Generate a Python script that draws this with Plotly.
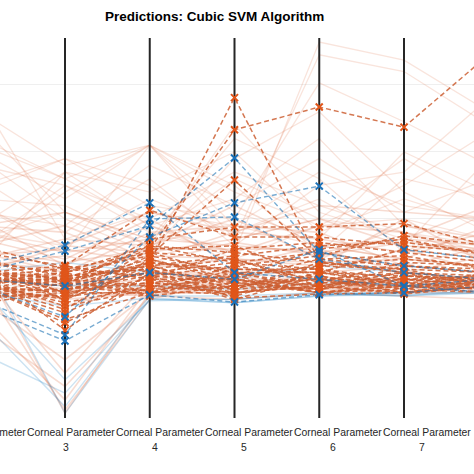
import plotly.graph_objects as go

# ---------------- data ----------------
params = [2, 3, 4, 5, 6, 7, 8]
label_params = [2, 3, 4, 5, 6, 7]   # labels visible inside the picture
title_text = "Predictions: Cubic SVM Algorithm"
axis_label = "Corneal Parameter"

# light background observations (solid, pale orange) - upper region
pale_upper = [
    [2.6, 1.8, 2.1, 0.9, 0.6, 0.4, 0.3],
    [1.8, 1.5, 0.8, 0.5, 3.64, 3.37, 2.6],
    [2.2, 1.6, 2.1, 0.7, 3.45, 3.2, 2.4],
    [1.4, 1.9, 1.2, 1.0, 3.03, 2.45, 1.8],
    [2.0, 1.3, 2.1, 1.4, 0.9, 1.5, 2.3],
    [0.6, 1.5, 1.0, 1.7, 1.2, 0.8, 0.5],
    [1.1, 0.9, 1.8, 1.2, 1.9, 1.1, 1.6],
    [2.4, 1.1, 0.7, 1.6, 1.0, 1.9, 1.2],
    [0.3, 1.7, 1.4, 2.0, 0.8, 1.3, 0.9],
    [1.6, 0.8, 1.6, 0.6, 1.5, 1.7, 2.8],
    [0.9, 1.7, 0.9, 1.3, 2.2, 0.9, 0.6],
    [1.3, 1.2, 0.6, 2.4, 1.1, 0.7, 0.4],
    [2.8, 0.7, 1.1, 0.9, 1.7, 1.2, 1.0],
    [0.5, 1.4, 2.1, 1.1, 0.7, 2.0, 1.4],
    [1.9, 1.0, 0.5, 1.9, 2.6, 1.4, 0.8],
    [0.8, 0.6, 1.3, 0.8, 1.3, 0.6, 1.9],
    [2.1, 1.6, 0.9, 0.4, 0.9, 1.0, 0.7],
    [1.2, 0.5, 2.1, 1.5, 0.5, 1.6, 1.3],
    [0.7, 1.1, 0.7, 2.2, 1.6, 0.5, 1.1],
    [1.5, 1.9, 1.5, 0.7, 1.0, 0.8, 0.6],
]

# pale orange observations inside the dense band
pale_band = [
    [0.8, 0.5, 0.7, 0.6, 0.5, 0.7, 0.6],
    [0.6, 0.9, 0.4, 0.8, 0.7, 0.5, 0.8],
    [1.0, 0.3, 0.9, 0.5, 0.9, 0.8, 0.4],
    [0.4, 0.7, 0.6, 1.0, 0.4, 0.9, 0.7],
    [0.7, 0.4, 1.0, 0.3, 0.6, 0.4, 0.9],
    [0.2, 0.6, 0.5, 0.7, 1.0, 0.6, 0.5],
    [0.9, 0.8, 0.3, 0.4, 0.3, 1.0, 0.3],
    [0.5, 0.2, 0.8, 0.9, 0.8, 0.3, 0.6],
    [0.3, 0.45, 0.2, 0.2, 0.2, 0.55, 0.2],
    [0.1, 0.0, 0.1, 0.0, 0.1, 0.0, 0.1],
    [-0.1, 0.1, 0.0, 0.1, -0.1, 0.1, 0.0],
    [0.0, -0.2, -0.1, -0.1, 0.0, -0.1, -0.1],
    [0.2, 0.15, 0.3, 0.25, 0.2, 0.3, 0.2],
    [-0.2, -0.1, -0.15, -0.2, -0.1, -0.15, -0.2],
    [0.35, 0.25, 0.45, 0.4, 0.35, 0.4, 0.3],
    [0.05, -0.3, 0.05, -0.05, -0.05, 0.05, 0.0],
    [1.2, 0.6, 1.1, 0.8, 1.2, 1.1, 1.0],
    [0.9, 1.1, 0.6, 1.2, 0.6, 0.7, 1.2],
    [0.55, 0.35, 0.55, 0.55, 0.55, 0.2, 0.45],
    [-0.15, 0.05, 0.2, 0.15, 0.0, 0.2, 0.1],
    [0.15, -0.05, -0.05, 0.05, 0.15, -0.05, 0.05],
    [0.45, 0.55, 0.35, 0.65, 0.45, 0.65, 0.55],
    [0.4, -1.9, -0.1, 0.0, 0.1, -0.1, 0.0],
    [0.1, -1.85, -0.2, 0.1, -0.1, 0.0, 0.1],
    [-0.4, -1.7, 0.0, -0.1, 0.0, 0.1, -0.1],
    [-0.6, -1.5, -0.15, 0.0, -0.05, -0.1, 0.0],
    [0.2, -1.3, 0.1, 0.2, 0.1, 0.0, 0.1],
    [-0.2, -1.1, -0.1, -0.1, 0.0, 0.0, -0.1],
]

# pale blue observations (solid)
pale_blue = [
    [0.5, -1.9, -0.2, -0.2, -0.1, -0.15, -0.1],
    [-0.5, -1.8, -0.15, -0.15, -0.1, -0.1, 0.0],
    [-1.0, -1.6, -0.2, -0.25, -0.15, -0.1, -0.1],
    [0.0, -1.4, -0.22, -0.2, -0.12, -0.15, -0.05],
    [-0.1, -0.3, -0.18, -0.25, -0.15, -0.12, -0.1],
    [0.1, 0.0, 0.0, -0.05, 0.05, 0.0, 0.05],
    [0.2, 0.35, 0.2, 0.1, 0.3, 0.2, 0.1],
]

# predicted class B (dashed orange with markers)
pred_orange = [
    [0.1, 0.0, 0.2, -0.1, 0.0, 0.1, 0.0],
    [-0.1, 0.1, 0.0, 0.1, -0.1, 0.0, 0.2],
    [0.2, -0.2, 0.3, 0.0, 0.1, -0.1, 0.1],
    [0.0, 0.2, -0.1, 0.2, 0.0, 0.2, -0.1],
    [0.3, -0.1, 0.1, -0.15, 0.2, 0.0, 0.0],
    [-0.2, 0.05, 0.4, 0.05, -0.05, 0.1, 0.1],
    [0.1, -0.3, -0.05, 0.3, 0.1, -0.05, 0.2],
    [0.4, 0.15, 0.25, -0.05, 0.3, 0.25, 0.0],
    [-0.05, -0.05, 0.05, 0.15, -0.1, 0.05, -0.05],
    [0.15, 0.25, 0.5, 0.4, 0.05, 0.35, 0.3],
    [0.0, -0.4, 0.15, -0.2, 0.15, -0.1, 0.05],
    [0.25, 0.1, -0.15, 0.0, -0.05, 0.15, 0.1],
    [-0.15, -0.15, 0.35, 0.25, 0.25, 0.0, -0.1],
    [0.5, 0.3, 0.1, 0.1, 0.4, 0.45, 0.25],
    [0.05, -0.25, 0.0, -0.1, 0.0, -0.12, 0.0],
    [0.2, 0.05, 0.6, 0.5, 0.35, 0.2, 0.15],
    [-0.1, -0.05, 0.2, 0.35, 0.5, 0.3, 0.2],
    [0.35, 0.2, 0.45, 0.2, 0.2, 0.55, 0.4],
    [0.0, -0.5, -0.1, 0.05, -0.1, -0.05, 0.1],
    [0.1, 0.1, 0.3, 0.45, 0.6, 0.65, 0.5],
    [-0.25, -0.1, 0.05, -0.05, 0.05, 0.05, -0.05],
    [0.3, -0.2, 0.55, 0.6, 0.1, 0.1, 0.0],
    [0.15, 0.0, -0.12, 0.15, 0.3, 0.4, 0.3],
    [-0.05, 0.15, 0.25, -0.18, -0.12, -0.1, 0.0],
    [0.6, 0.25, 0.15, 0.3, 0.45, 0.75, 0.6],
    [0.05, -0.35, 0.4, 0.1, 0.0, 0.15, 0.05],
    [0.2, 0.3, 0.1, 0.55, 0.65, 0.5, 0.35],
    [-0.1, -0.15, -0.05, 0.0, 0.15, -0.05, -0.1],
    [0.4, 0.05, 0.35, 0.2, -0.05, 0.3, 0.25],
    [0.0, -0.55, 0.05, -0.1, 0.05, 0.0, 0.05],
    [0.1, 0.2, 0.6, 0.35, 0.25, 0.1, 0.15],
    [-0.2, -0.05, 0.15, 0.05, 0.1, 0.2, 0.0],
    [0.25, -0.1, -0.1, 0.25, 0.2, 0.05, 0.1],
    [0.05, 0.1, 0.3, -0.05, 0.35, 0.25, 0.2],
    [0.3, -0.66, 0.2, 0.1, -0.1, 0.0, -0.05],
    [0.15, 0.0, 0.7, 0.88, 0.88, 0.93, 0.6],
    [-0.05, 0.3, 1.13, 0.73, 0.73, 0.6, 0.5],
    [0.2, 0.12, 0.5, 0.15, 0.55, 0.7, 0.45],
    [0.0, -0.2, 0.25, 0.4, 0.0, -0.1, 0.0],
    [0.1, 0.05, -0.08, -0.12, 0.2, 0.15, 0.1],
    [0.1, 0.0, 0.35, 2.81, 0.37, 0.2, 0.1],
    [0.2, 0.1, 0.55, 2.33, 2.67, 2.37, 3.45],
    [0.0, -0.1, 0.45, 1.58, 0.4, 0.3, 0.2],
]

# predicted class A (dashed blue with markers)
pred_blue = [
    [0.3, 0.61, 1.24, 0.2, 0.1, 0.0, 0.1],
    [0.2, 0.52, 0.9, 1.91, 0.5, 0.3, 0.2],
    [0.0, -0.46, 0.73, 1.24, 1.49, 0.54, 0.4],
    [-0.2, -0.73, 1.0, 1.03, 0.4, 0.2, 0.1],
    [-0.3, -0.82, -0.13, -0.24, -0.13, -0.1, 0.0],
    [0.1, 0.0, 0.2, 0.1, 0.54, 0.0, -0.1],
]

y_range = [-1.97, 3.70]
x_range = [2.233, 7.826]
grid_vals = [-1, 0, 1, 2, 3]


def polyline(rows):
    xs, ys = [], []
    for r in rows:
        xs += params + [None]
        ys += list(r) + [None]
    return xs, ys


fig = go.Figure()

x, y = polyline(pale_upper)
fig.add_trace(go.Scatter(x=x, y=y, mode="lines",
                         line=dict(color="rgba(226,120,80,0.2)", width=1.3),
                         hoverinfo="skip", showlegend=False))
x, y = polyline(pale_band)
fig.add_trace(go.Scatter(x=x, y=y, mode="lines",
                         line=dict(color="rgba(226,120,80,0.26)", width=1.6),
                         hoverinfo="skip", showlegend=False))
x, y = polyline(pale_blue)
fig.add_trace(go.Scatter(x=x, y=y, mode="lines",
                         line=dict(color="rgba(0,114,189,0.2)", width=1.4),
                         hoverinfo="skip", showlegend=False))

# parallel axes
ax_x, ax_y = [], []
for p in params:
    ax_x += [p, p, None]
    ax_y += [y_range[0], y_range[1], None]
fig.add_trace(go.Scatter(x=ax_x, y=ax_y, mode="lines",
                         line=dict(color="#262626", width=2),
                         hoverinfo="skip", showlegend=False))

x, y = polyline(pred_orange)
fig.add_trace(go.Scatter(x=x, y=y, mode="lines+markers",
                         line=dict(color="rgba(205,95,50,0.85)", width=1.5, dash="5px,3px"),
                         marker=dict(symbol="x-thin", size=7,
                                     line=dict(color="#E0561A", width=2)),
                         hoverinfo="skip", showlegend=False))
x, y = polyline(pred_blue)
fig.add_trace(go.Scatter(x=x, y=y, mode="lines+markers",
                         line=dict(color="rgba(30,115,180,0.6)", width=1.4, dash="5px,3px"),
                         marker=dict(symbol="x-thin", size=7,
                                     line=dict(color="#1A70B8", width=2)),
                         hoverinfo="skip", showlegend=False))


def to_paper(xv):
    return (xv - x_range[0]) / (x_range[1] - x_range[0])


label_font = dict(family="Liberation Sans, Arial, sans-serif", size=10.4, color="#262626")
annotations = []
for p in label_params:
    xp = to_paper(p + 0.05 * (p - 3) + 0.01)
    annotations.append(dict(
        x=xp, xref="paper", y=0, yref="paper", yanchor="top", xanchor="center",
        xshift=5.5, yshift=-7, showarrow=False, text=axis_label, font=label_font))
    annotations.append(dict(
        x=xp, xref="paper", y=0, yref="paper", yanchor="top", xanchor="center",
        yshift=-22, showarrow=False, text=str(p), font=label_font))
annotations.append(dict(
    x=214 / 474, xref="paper", y=1, yref="paper", yanchor="bottom", xanchor="center",
    yshift=12, showarrow=False, text=f"<b>{title_text}</b>",
    font=dict(family="Liberation Sans, Arial, sans-serif", size=13.5, color="#000000")))

fig.update_layout(
    width=474, height=474,
    margin=dict(l=0, r=0, t=38, b=56, pad=0),
    paper_bgcolor="white", plot_bgcolor="white",
    xaxis=dict(range=x_range, showgrid=False, zeroline=False, showticklabels=False,
               showline=False, ticks=""),
    yaxis=dict(range=y_range, tickvals=grid_vals, showticklabels=False, showgrid=True,
               gridcolor="#efefef", gridwidth=1, zeroline=False, showline=False, ticks=""),
    annotations=annotations,
    showlegend=False,
)

fig.write_html("out.html")
